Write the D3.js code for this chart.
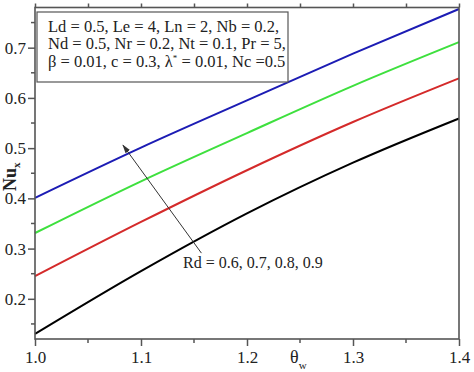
<!DOCTYPE html>
<html>
<head>
<meta charset="utf-8">
<script src="https://cdn.jsdelivr.net/npm/d3@7"></script>
<style>
  body { margin: 0; background: #fff; }
  text { font-family: "Liberation Serif", "Times New Roman", serif; }
</style>
</head>
<body>
<svg id="chart" width="474" height="372" viewBox="0 0 474 372"></svg>
<script>
// data
const thetaW = [1.0, 1.1, 1.2, 1.3, 1.4];
const rdValues = [0.6, 0.7, 0.8, 0.9];
const nuRd06 = [0.130, 0.255, 0.370, 0.471, 0.559];
const nuRd07 = [0.245, 0.353, 0.456, 0.552, 0.639];
const nuRd08 = [0.331, 0.434, 0.530, 0.624, 0.711];
const nuRd09 = [0.401, 0.501, 0.595, 0.688, 0.777];
const seriesColors = ["#000000", "#d42a2a", "#3ee03e", "#1c1cb4"];
const xTicks = [1.0, 1.1, 1.2, 1.3, 1.4];
const yTicks = [0.2, 0.3, 0.4, 0.5, 0.6, 0.7];
const infoLines = [
  "Ld = 0.5, Le = 4, Ln = 2, Nb = 0.2,",
  "Nd = 0.5, Nr = 0.2, Nt = 0.1, Pr = 5,"
];

const svg = d3.select("#chart");
const plotLeft = 35, plotRight = 459, plotTop = 7.5, plotBottom = 339;
const axisColor = "#555";

const x = d3.scaleLinear().domain([1.0, 1.4]).range([plotLeft, plotRight]);
const y = d3.scaleLinear().domain([0.12, 0.78]).range([plotBottom, plotTop]);

const allSeries = [nuRd06, nuRd07, nuRd08, nuRd09];

// curves
const line = d3.line()
  .x((d, i) => x(thetaW[i]))
  .y(d => y(d))
  .curve(d3.curveMonotoneX);

svg.append("g")
  .selectAll("path")
  .data(allSeries)
  .enter()
  .append("path")
  .attr("d", d => line(d))
  .attr("fill", "none")
  .attr("stroke", (d, i) => seriesColors[i])
  .attr("stroke-width", 2);

// frame
svg.append("rect")
  .attr("x", plotLeft).attr("y", plotTop)
  .attr("width", plotRight - plotLeft).attr("height", plotBottom - plotTop)
  .attr("fill", "none").attr("stroke", axisColor).attr("stroke-width", 1.6);

// bottom axis
const xMinor = d3.range(1.05, 1.4, 0.1);
const xAxis = d3.axisBottom(x).tickValues(xTicks).tickFormat(d3.format(".1f")).tickSize(7).tickSizeOuter(0);
const gx = svg.append("g").attr("transform", `translate(0,${plotBottom})`).call(xAxis);
gx.select(".domain").remove();
gx.selectAll("line").attr("stroke", axisColor).attr("stroke-width", 1.5);
gx.selectAll("text").attr("font-size", 17).attr("fill", "#222").attr("y", 12);
gx.selectAll(".minor").data(xMinor).enter().append("line")
  .attr("x1", d => x(d)).attr("x2", d => x(d))
  .attr("y1", 0).attr("y2", 4)
  .attr("stroke", axisColor).attr("stroke-width", 1.5);

// top axis ticks, no labels
const gt = svg.append("g").attr("transform", `translate(0,${plotTop})`)
  .call(d3.axisTop(x).tickValues(xTicks.concat(xMinor)).tickFormat("").tickSize(4).tickSizeOuter(0));
gt.select(".domain").remove();
gt.selectAll("line").attr("stroke", axisColor).attr("stroke-width", 1.5);

// left axis
const yMinor = d3.range(0.15, 0.78, 0.1);
const yAxis = d3.axisLeft(y).tickValues(yTicks).tickFormat(d3.format(".1f")).tickSize(7).tickSizeOuter(0);
const gy = svg.append("g").attr("transform", `translate(${plotLeft},0)`).call(yAxis);
gy.select(".domain").remove();
gy.selectAll("line").attr("stroke", axisColor).attr("stroke-width", 1.5);
gy.selectAll("text").attr("font-size", 17).attr("fill", "#222").attr("x", -9);
gy.selectAll(".minor").data(yMinor).enter().append("line")
  .attr("y1", d => y(d)).attr("y2", d => y(d))
  .attr("x1", 0).attr("x2", -4)
  .attr("stroke", axisColor).attr("stroke-width", 1.5);

// axis titles
const yTitle = svg.append("text")
  .attr("transform", "translate(16,191) rotate(-90)")
  .attr("font-size", 18).attr("font-weight", "bold").attr("fill", "#222");
yTitle.append("tspan").text("Nu");
yTitle.append("tspan").attr("font-size", 11).attr("dy", 4).text("x");

const xTitle = svg.append("text")
  .attr("x", 290).attr("y", 363)
  .attr("font-size", 18).attr("fill", "#222");
xTitle.append("tspan").text("θ");
xTitle.append("tspan").attr("font-size", 11).attr("dy", 6).text("w");

// parameter box
svg.append("rect")
  .attr("x", 37).attr("y", 12).attr("width", 251).attr("height", 70)
  .attr("fill", "#fff").attr("stroke", axisColor).attr("stroke-width", 1.2);

const info = svg.append("g").attr("font-size", 16.5).attr("fill", "#222");
infoLines.forEach((t, i) => {
  info.append("text").attr("x", 48).attr("y", 32 + i * 17).text(t);
});
const third = info.append("text").attr("x", 48).attr("y", 66.5);
third.append("tspan").text("β = 0.01, c = 0.3, λ");
third.append("tspan").attr("font-size", 9).attr("dy", -6).text("*");
third.append("tspan").attr("dy", 6).text(" = 0.01, Nc =0.5");

// arrow for increasing Rd
svg.append("defs").append("marker")
  .attr("id", "head").attr("viewBox", "0 0 10 10")
  .attr("refX", 9).attr("refY", 5)
  .attr("markerWidth", 9).attr("markerHeight", 9)
  .attr("markerUnits", "userSpaceOnUse")
  .attr("orient", "auto")
  .append("path").attr("d", "M0,2 L10,5 L0,8 Z").attr("fill", "#333");

const arrowTail = [1.157, 0.291];
const arrowHead = [1.083, 0.506];
svg.append("line")
  .attr("x1", x(arrowTail[0])).attr("y1", y(arrowTail[1]))
  .attr("x2", x(arrowHead[0])).attr("y2", y(arrowHead[1]))
  .attr("stroke", "#333").attr("stroke-width", 1)
  .attr("marker-end", "url(#head)");

svg.append("text")
  .attr("x", 183).attr("y", 268)
  .attr("font-size", 16).attr("fill", "#222")
  .text("Rd = " + rdValues.join(", "));
</script>
</body>
</html>
